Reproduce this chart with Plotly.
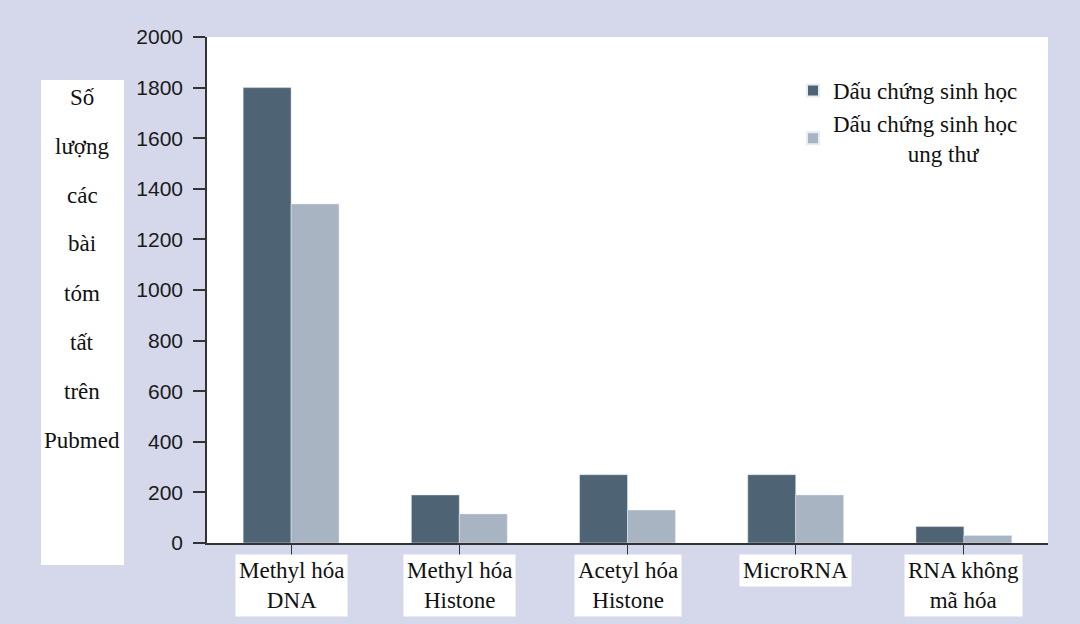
import plotly.graph_objects as go

categories = ["Methyl hóa<br>DNA", "Methyl hóa<br>Histone", "Acetyl hóa<br>Histone", "MicroRNA", "RNA không<br>mã hóa"]
series1_name = "Dấu chứng sinh học"
series2_name = "Dấu chứng sinh học<br>\u00a0\u00a0\u00a0\u00a0\u00a0\u00a0\u00a0\u00a0\u00a0\u00a0\u00a0\u00a0\u00a0ung thư"
series1 = [1800, 190, 270, 270, 65]
series2 = [1340, 115, 130, 190, 30]
ytick_vals = [0, 200, 400, 600, 800, 1000, 1200, 1400, 1600, 1800, 2000]
ytitle_words = ["Số", "lượng", "các", "bài", "tóm", "tất", "trên", "Pubmed"]

BG = "#d5d8ea"
DARK = "#4e6475"
LIGHT = "#a9b4c2"
SERIF = "Liberation Serif, Times New Roman, serif"
SANS = "Liberation Sans, Arial, sans-serif"

fig = go.Figure()
fig.add_trace(go.Bar(x=list(range(len(categories))), y=series1, name=series1_name, marker_color=DARK))
fig.add_trace(go.Bar(x=list(range(len(categories))), y=series2, name=series2_name, marker_color=LIGHT))

L, R, T, B = 207, 32, 37, 81
W, H = 1080, 624
pw, ph = W - L - R, H - T - B

def px2paper_x(px):
    return (px - L) / pw

def px2paper_y(py):
    return (H - B - py) / ph

annotations = []
# category labels in white boxes
for i, c in enumerate(categories):
    annotations.append(dict(
        x=i, xref="x", y=px2paper_y(554), yref="paper", yanchor="top",
        text=c, showarrow=False, bgcolor="white", borderpad=3,
        font=dict(family=SERIF, size=23, color="#111"), align="center"))

# y title words
word_y0 = 97
for k, w in enumerate(ytitle_words):
    annotations.append(dict(
        x=px2paper_x(82), xref="paper", y=px2paper_y(word_y0 + 49 * k), yref="paper",
        text=w, showarrow=False, xanchor="center", yanchor="middle",
        font=dict(family=SERIF, size=23, color="#111")))

shapes = [dict(type="rect", xref="paper", yref="paper",
               x0=px2paper_x(41), x1=px2paper_x(124),
               y0=px2paper_y(565), y1=px2paper_y(80),
               fillcolor="white", line=dict(width=0), layer="below")]

fig.update_layout(
    width=W, height=H,
    margin=dict(l=L, r=R, t=T, b=B),
    paper_bgcolor=BG, plot_bgcolor="white",
    barmode="group", bargap=0.43, bargroupgap=0,
    showlegend=True,
    legend=dict(x=px2paper_x(793), y=px2paper_y(69), xanchor="left", yanchor="top",
                bgcolor="rgba(0,0,0,0)", font=dict(family=SERIF, size=23, color="#111"),
                itemsizing="constant", tracegroupgap=0),
    xaxis=dict(range=[-0.5, len(categories) - 0.5], showticklabels=False,
               tickmode="array", tickvals=list(range(len(categories))),
               ticks="outside", tickson="boundaries", ticklen=10, tickcolor="#333",
               showline=True, linecolor="#333", linewidth=1.5, showgrid=False, zeroline=False),
    yaxis=dict(range=[0, 2000], tickvals=ytick_vals, ticks="outside", ticklen=12,
               tickcolor="#333", tickwidth=1.5,
               showline=True, linecolor="#333", linewidth=1.5, showgrid=False, zeroline=False,
               tickfont=dict(family=SANS, size=21, color="#1a1a1a"), ticklabelstandoff=6),
    annotations=annotations, shapes=shapes,
)

fig.write_html("out.html", config={"displayModeBar": False},
               post_script="document.body.style.margin='0';document.body.style.background='%s';" % BG)
